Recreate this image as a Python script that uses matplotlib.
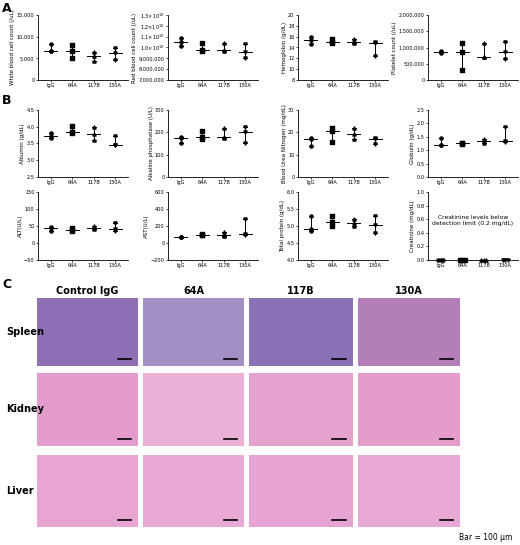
import matplotlib
matplotlib.use("Agg")
import matplotlib.pyplot as plt
import numpy as np

groups = ["IgG", "64A", "117B", "130A"]
markers = ["o", "s", "^", "v"]

wbc = [[8300, 6800, 6600], [8000, 6800, 5000], [6400, 5600, 4500], [7500, 6200, 4600]]
rbc = [[1.09e10, 1.05e10, 1.01e10], [1.04e10, 0.98e10, 0.97e10], [1.04e10, 0.98e10, 0.97e10], [1.03e10, 0.96e10, 0.90e10]]
hgb = [[15.9, 15.4, 14.7], [15.5, 15.0, 14.9], [15.6, 15.0, 14.9], [15.1, 14.8, 12.4]]
plt_ = [[900e3, 850e3, 820e3], [1150e3, 850e3, 320e3], [1130e3, 720e3, 700e3], [1180e3, 850e3, 650e3]]
alb = [[3.82, 3.72, 3.65], [4.02, 3.84, 3.80], [3.98, 3.78, 3.60], [3.72, 3.47, 3.45]]
alp = [[180, 175, 150], [205, 178, 172], [220, 178, 175], [225, 200, 150]]
bun = [[17.5, 17.0, 13.7], [22, 20.5, 15.7], [22, 19.3, 17], [17.5, 17.2, 14.8]]
glob = [[1.45, 1.20, 1.20], [1.27, 1.25, 1.24], [1.40, 1.33, 1.25], [1.85, 1.35, 1.32]]
alt = [[48, 45, 36], [43, 38, 35], [50, 43, 40], [60, 40, 35]]
ast = [[75, 72, 65], [110, 100, 95], [125, 92, 88], [280, 110, 100]]
tp = [[5.28, 4.90, 4.85], [5.30, 5.12, 5.00], [5.22, 5.10, 5.00], [5.30, 5.03, 4.78]]
crea = [[0, 0, 0], [0, 0, 0], [0, 0, 0], [0, 0, 0]]

rbc_ticks = [7e9, 8e9, 9e9, 1.0e10, 1.1e10, 1.2e10, 1.3e10]
rbc_labels = ["7,000,000", "8,000,000", "9,000,000", r"1.0×10$^{10}$", r"1.1×10$^{10}$", r"1.2×10$^{10}$", r"1.3×10$^{10}$"]

panels = [
    (wbc, "White blood cell count (/uL)", (0, 15000), [0, 5000, 10000, 15000], ["0", "5,000", "10,000", "15,000"]),
    (rbc, "Red blood cell count (/uL)", (7e9, 1.3e10), rbc_ticks, rbc_labels),
    (hgb, "Hemoglobin (g/dL)", (8, 20), [8, 10, 12, 14, 16, 18, 20], None),
    (plt_, "Platelet count (/uL)", (0, 2e6), [0, 5e5, 1e6, 1.5e6, 2e6], ["0", "500,000", "1,000,000", "1,500,000", "2,000,000"]),
    (alb, "Albumin (g/dL)", (2.5, 4.5), [2.5, 3.0, 3.5, 4.0, 4.5], None),
    (alp, "Alkaline phosphatase (U/L)", (0, 300), [0, 100, 200, 300], None),
    (bun, "Blood Urea Nitrogen (mg/dL)", (0, 30), [0, 10, 20, 30], None),
    (glob, "Globulin (g/dL)", (0, 2.5), [0, 0.5, 1.0, 1.5, 2.0, 2.5], None),
    (alt, "ALT(U/L)", (-50, 150), [-50, 0, 50, 100, 150], None),
    (ast, "AST(U/L)", (-200, 600), [-200, 0, 200, 400, 600], None),
    (tp, "Total protein (g/dL)", (4.0, 6.0), [4.0, 4.5, 5.0, 5.5, 6.0], None),
    (crea, "Creatinine (mg/dL)", (0, 1.0), [0, 0.2, 0.4, 0.6, 0.8, 1.0], None),
]

W, H = 520, 545
fig = plt.figure(figsize=(W / 100, H / 100), dpi=100)

def pax(x0, y0, x1, y1):
    return fig.add_axes([x0 / W, 1 - y1 / H, (x1 - x0) / W, (y1 - y0) / H])

xcols = [(38, 128), (168, 258), (298, 388), (428, 518)]
yrows = [(15, 80), (110, 177), (192, 260)]
fs = 3.6
for i, (vals, lab, ylim, ticks, tlabels) in enumerate(panels):
    r = 0 if i < 4 else (1 if i < 8 else 2)
    c = i % 4
    ax = pax(xcols[c][0], yrows[r][0], xcols[c][1], yrows[r][1])
    for g, v in enumerate(vals):
        v = np.array(v, dtype=float)
        med = np.median(v)
        ax.plot([g - 0.3, g + 0.3], [med, med], color="k", lw=0.7)
        ax.plot([g, g], [v.min(), v.max()], color="k", lw=0.7)
        for yy in (v.min(), v.max()):
            ax.plot([g - 0.1, g + 0.1], [yy, yy], color="k", lw=0.7)
        offs = [-0.12, 0, 0.12] if i == 11 else [0, 0, 0]
        ax.scatter(np.full(3, g) + np.array(offs), v, marker=markers[g], s=5, color="k", zorder=3, clip_on=False)
    ax.set_xlim(-0.6, 3.6)
    ax.set_ylim(*ylim)
    ax.set_yticks(ticks)
    if tlabels:
        ax.set_yticklabels(tlabels)
    ax.set_xticks(range(4))
    ax.set_xticklabels(groups)
    ax.tick_params(labelsize=fs, length=1.5, width=0.5, pad=1)
    ax.set_ylabel(lab, fontsize=fs + 0.4, labelpad=1)
    for s in ("top", "right"):
        ax.spines[s].set_visible(False)
    for s in ("left", "bottom"):
        ax.spines[s].set_linewidth(0.6)
    if i == 11:
        ax.text(1.5, 0.58, "Creatinine levels below\ndetection limit (0.2 mg/dL)", ha="center", va="center",
                fontsize=4.3, linespacing=1.4)

fig.text(2 / W, 1 - 9 / H, "A", fontsize=9, fontweight="bold", va="center")
fig.text(2 / W, 1 - 100 / H, "B", fontsize=9, fontweight="bold", va="center")
fig.text(2 / W, 1 - 285 / H, "C", fontsize=9, fontweight="bold", va="center")

titles = ["Control IgG", "64A", "117B", "130A"]
rows = ["Spleen", "Kidney", "Liver"]
icols = [(37, 138), (143, 244), (249, 353), (358, 460)]
irows = [(298, 366), (373, 446), (455, 527)]
colors = [
    ["#8f6fb5", "#a28fc4", "#8a72b8", "#b47fb8"],
    ["#e39ccb", "#eab0d6", "#e6a2cf", "#e59ccb"],
    ["#e8a5d2", "#e9a9d5", "#e7a3d1", "#e8a8d4"],
]
for ci, (x0, x1) in enumerate(icols):
    fig.text((x0 + x1) / 2 / W, 1 - 291 / H, titles[ci], ha="center", va="center", fontsize=7, fontweight="bold")
    for ri, (y0, y1) in enumerate(irows):
        ax = pax(x0, y0, x1, y1)
        ax.set_facecolor(colors[ri][ci])
        ax.set_xticks([]); ax.set_yticks([])
        for s in ax.spines.values():
            s.set_visible(False)
        ax.plot([0.8, 0.93], [0.1, 0.1], color="k", lw=1.2, transform=ax.transAxes)
for ri, (y0, y1) in enumerate(irows):
    fig.text(6 / W, 1 - (y0 + y1) / 2 / H, rows[ri], ha="left", va="center", fontsize=7, fontweight="bold")
fig.text(512 / W, 1 - 537 / H, "Bar = 100 µm", ha="right", va="center", fontsize=5.5)

fig.savefig("out.png", dpi=100)
